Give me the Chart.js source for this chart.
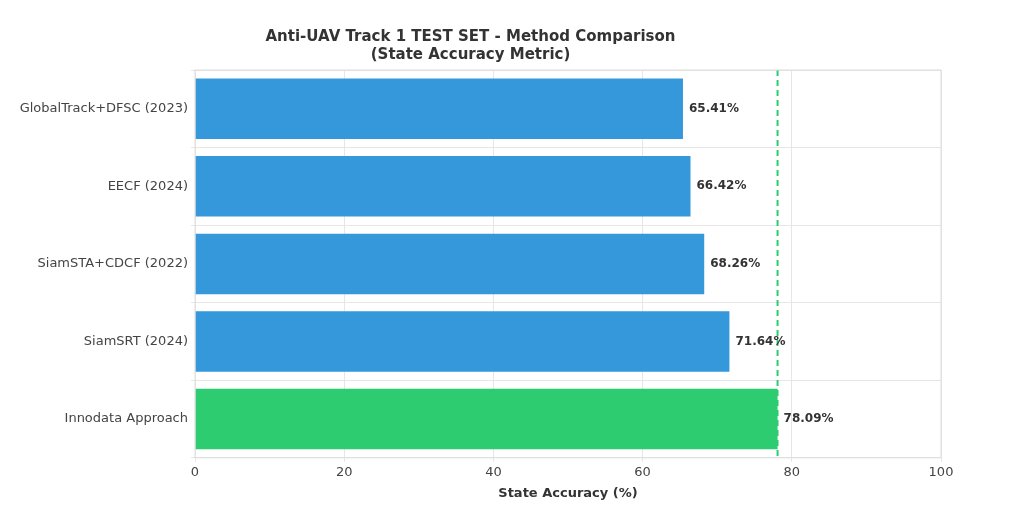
<!DOCTYPE html>
<html>
<head>
<meta charset="utf-8">
<script src="https://cdn.jsdelivr.net/npm/chart.js@4/dist/chart.umd.min.js"></script>
<style>
  body { margin: 0; background: #fff; }
</style>
</head>
<body>
<canvas id="chart" width="1024" height="517"></canvas>
<script>
const methods = ["GlobalTrack+DFSC (2023)", "EECF (2024)", "SiamSTA+CDCF (2022)", "SiamSRT (2024)", "Innodata Approach"];
const accuracy = [65.41, 66.42, 68.26, 71.64, 78.09];
const barColors = ["#3498db", "#3498db", "#3498db", "#3498db", "#2ecc71"];
const refLine = 78.09;

const extras = {
  id: "extras",
  afterDatasetsDraw(chart) {
    const { ctx, chartArea, scales } = chart;
    const x = scales.x.getPixelForValue(refLine);
    ctx.save();
    ctx.strokeStyle = "#2ecc71";
    ctx.lineWidth = 2;
    ctx.setLineDash([6, 4]);
    ctx.beginPath();
    ctx.moveTo(x, chartArea.top);
    ctx.lineTo(x, chartArea.bottom);
    ctx.stroke();
    ctx.setLineDash([]);
    ctx.font = "bold 12px 'DejaVu Sans'";
    ctx.fillStyle = "#333";
    ctx.textBaseline = "middle";
    chart.getDatasetMeta(0).data.forEach((bar, i) => {
      ctx.fillText(accuracy[i].toFixed(2) + "%", bar.x + 6, bar.y);
    });
    ctx.strokeStyle = "#ddd";
    ctx.lineWidth = 1;
    ctx.strokeRect(chartArea.left, chartArea.top, chartArea.right - chartArea.left, chartArea.bottom - chartArea.top);
    ctx.restore();
  }
};

new Chart(document.querySelector("#chart"), {
  type: "bar",
  data: {
    labels: methods,
    datasets: [{
      data: accuracy,
      backgroundColor: barColors,
      barPercentage: 0.78,
      categoryPercentage: 1
    }]
  },
  options: {
    indexAxis: "y",
    responsive: false,
    animation: false,
    layout: { padding: { left: 0, right: 83, top: 0, bottom: 12 } },
    scales: {
      x: {
        min: 0, max: 100,
        ticks: { stepSize: 20, color: "#444", font: { size: 13, family: "DejaVu Sans" } },
        grid: { color: "#e6e6e6", tickLength: 4 },
        border: { display: false },
        title: { display: true, text: "State Accuracy (%)", color: "#333", font: { size: 13, weight: "bold", family: "DejaVu Sans" }, padding: { top: 2 } }
      },
      y: {
        afterFit(scale) { scale.width = 195; },
        ticks: { color: "#444", font: { size: 13, family: "DejaVu Sans" } },
        grid: { color: "#e6e6e6", tickLength: 4 },
        border: { display: false }
      }
    },
    plugins: {
      legend: { display: false },
      tooltip: { enabled: false },
      title: {
        display: true,
        text: ["Anti-UAV Track 1 TEST SET - Method Comparison", "(State Accuracy Metric)"],
        color: "#333",
        font: { size: 15, weight: "bold", family: "DejaVu Sans" },
        padding: { top: 28, bottom: 6 }
      }
    }
  },
  plugins: [extras]
});
</script>
</body>
</html>
